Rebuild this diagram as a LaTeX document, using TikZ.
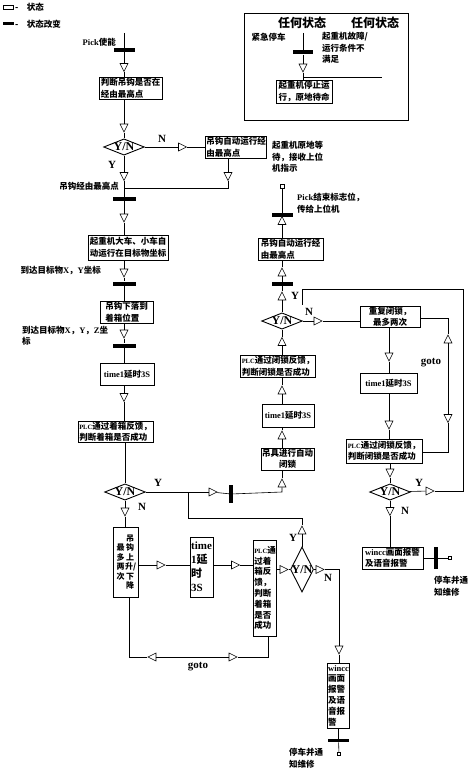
\documentclass[tikz,border=0pt]{standalone}
\usepackage{fontspec}
\setmainfont{Noto Sans CJK SC}
\newfontfamily\lat{Liberation Serif}
\usetikzlibrary{shapes.geometric}
\newcommand\plc{{\fontsize{6.5}{6.5}\selectfont\lat PLC}}

\begin{document}
\begin{tikzpicture}[x=1pt, y=-1pt,
    every node/.style={font=\fontsize{8.5}{11.5}\selectfont\bfseries},
    box/.style={rectangle, draw, line width=0.9pt, inner sep=1pt, align=left},
    yn/.style={diamond, draw, line width=0.9pt, inner sep=0pt, aspect=2.5, font=\fontsize{12}{12}\selectfont\lat\bfseries},
    tri/.style={isosceles triangle, isosceles triangle stretches, draw, fill=white, line width=0.6pt, inner sep=0pt, minimum width=8pt, minimum height=8pt},
    tdown/.style={tri, shape border rotate=270},
    tup/.style={tri, shape border rotate=90},
    tright/.style={tri, shape border rotate=0},
    tleft/.style={tri, shape border rotate=180},
    sbar/.style={rectangle, fill=black, inner sep=0pt, minimum width=21pt, minimum height=4pt},
    vbar/.style={rectangle, fill=black, inner sep=0pt, minimum width=4pt, minimum height=20pt},
    endsq/.style={rectangle, draw, line width=0.6pt, inner sep=0pt, minimum size=3pt},
    txt/.style={inner sep=0pt, align=left},
    yntxt/.style={inner sep=0pt, font=\fontsize{11}{11}\selectfont\lat\bfseries},
    conn/.style={draw, line width=0.6pt}
]
\useasboundingbox (0,0) rectangle (474,770);

% Legend
\node[rectangle, draw, line width=0.6pt, minimum width=10pt, minimum height=4pt, inner sep=0pt] (lgst) at (8,7) {};
\node[txt, anchor=west] (lgstt) at (15,7) {-\quad 状态};
\node[sbar, minimum width=11pt, minimum height=3.5pt] (lgch) at (8,23.5) {};
\node[txt, anchor=west] (lgcht) at (15,24) {-\quad 状态改变};

% Any-state frame
\node[rectangle, draw, line width=0.9pt, minimum width=164pt, minimum height=107pt] (frame) at (326,66.5) {};
\node[inner sep=0pt, font=\fontsize{12}{14}\selectfont\bfseries] (any1) at (302,23) {任何状态};
\node[inner sep=0pt, font=\fontsize{12}{14}\selectfont\bfseries] (any2) at (375,23) {任何状态};
\node[txt] (estop) at (268.5,37) {紧急停车};
\node[txt, anchor=north west] (fault) at (322,32) {起重机故障/\\运行条件不\\满足};
\coordinate (s2) at (303,33);
\node[sbar, minimum width=20pt] (b7) at (303,52.5) {};
\node[tdown] (t35) at (303,66.5) {};
\coordinate (j5) at (303,77);
\coordinate (j6) at (382,77);
\node[box, minimum width=56pt, minimum height=23pt] (box19) at (304,91.5) {起重机停止运\\行，原地待命};

% Main column
\coordinate (s1) at (124,33);
\node[txt, anchor=east] (pick) at (116,42) {{\lat Pick}使能};
\node[sbar] (b1) at (124,50) {};
\node[tdown] (t1) at (124,66) {};
\node[box, minimum width=63pt, minimum height=22pt] (box1) at (130.5,88) {判断吊钩是否在\\经由最高点};
\node[tdown] (t2) at (124,126.5) {};
\node[yn] (d1) at (124,147) {Y/N};
\node[yntxt] (n1) at (162,139) {N};
\node[tright] (t3) at (181,147) {};
\node[box, minimum width=58pt, minimum height=22pt] (box2) at (236,147) {吊钩自动运行经\\由最高点};
\node[yntxt] (y1) at (112,165) {Y};
\node[tdown] (t4) at (124,175) {};
\node[tdown] (t5) at (228,175) {};
\coordinate (j1) at (124,188);
\coordinate (j1r) at (228,188);
\node[txt, anchor=east] (via) at (119,186) {吊钩经由最高点};
\node[sbar, minimum width=23pt] (b2) at (124,199) {};
\node[tdown] (t6) at (124,216.5) {};
\node[box, minimum width=80pt, minimum height=25pt] (box3) at (128,247.5) {起重机大车、小车自\\动运行在目标物坐标};
\node[tdown] (t7) at (124,271.5) {};
\node[txt, anchor=east] (xy) at (101,271) {到达目标物{\lat X}，{\lat Y}坐标};
\node[sbar, minimum width=23pt] (b3) at (124,283.5) {};
\node[box, minimum width=53pt, minimum height=21pt] (box4) at (126.5,312.5) {吊钩下落到\\着箱位置};
\node[tdown] (t8) at (124,332.5) {};
\node[txt, anchor=north west] (xyz) at (22,326) {到达目标物{\lat X}，{\lat Y}，{\lat Z}坐\\标};
\node[sbar, minimum width=23pt] (b4) at (124,345.5) {};
\node[box, align=center, minimum width=54pt, minimum height=22pt] (box5) at (127,374) {{\lat time1}延时{\lat 3S}};
\node[tdown] (t9) at (124,396) {};
\node[box, minimum width=75pt, minimum height=20pt] (box6) at (115.5,432) {\plc 通过着箱反馈，\\判断着箱是否成功};
\node[yn] (d2) at (125,492) {Y/N};
\node[yntxt] (y2) at (158,483) {Y};
\node[yntxt] (n2) at (142,507) {N};
\coordinate (j2) at (188,492);
\coordinate (j2d) at (188,518);
\node[tright] (t10) at (211.5,492) {};
\node[vbar, minimum height=18pt] (vb1) at (231,494) {};
\coordinate (c1) at (282,492);
\node[tdown] (t11) at (125,510.5) {};
\node[box, inner sep=0pt, minimum width=25pt, minimum height=70pt, font=\fontsize{8}{9.5}\selectfont\bfseries] (box7) at (125.5,562)
  {\parbox[c]{9pt}{\centering 最\\多\\两\\次}\parbox[c]{10pt}{\centering 吊\\钩\\上\\升/\\下\\降}};
\node[tright] (t12) at (159.5,565) {};
\node[box, minimum width=23pt, minimum height=60pt, font=\fontsize{11}{14}\selectfont\bfseries] (box8) at (201.5,567) {{\lat time}\\{\lat 1}延\\时\\{\lat 3S}};
\node[tright] (t13) at (234,565) {};
\node[box, minimum width=22pt, minimum height=96pt, font=\fontsize{8.5}{10.8}\selectfont\bfseries] (box9) at (265,588) {\plc 通\\过着\\箱反\\馈，\\判断\\着箱\\是否\\成功};
\node[tright] (t14) at (282.5,569.5) {};
\node[yn, aspect=0.5, minimum width=23pt, minimum height=45pt] (d3) at (302,569.5) {\makebox[0pt]{Y/N}};
\coordinate (j3) at (302,518);
\node[tup] (t15) at (302,531.5) {};
\node[yntxt] (y3) at (293,538) {Y};
\node[tright] (t16) at (318.5,569.5) {};
\node[yntxt] (n3) at (328,578) {N};
\coordinate (j4) at (339,569.5);
\node[tdown] (t17) at (339,648.5) {};
\node[box, minimum width=21pt, minimum height=65pt, font=\fontsize{8.5}{10.8}\selectfont\bfseries] (box10) at (338.5,695.5) {{\lat wincc}\\画面\\报警\\及语\\音报\\警};
\node[sbar, minimum width=21pt, minimum height=3.5pt] (hb) at (338.5,740.5) {};
\node[endsq] (sq3) at (339,754) {};
\node[txt, anchor=north west] (stop1) at (289,748) {停车并通\\知维修};
\coordinate (l1) at (268,657);
\coordinate (l2) at (129,657);
\node[tleft] (t18) at (153.5,657) {};
\node[tright] (t19) at (231.5,657) {};
\node[yntxt] (goto1) at (198,667) {goto};

% Right column
\node[txt, anchor=north west] (wait) at (272,141) {起重机原地等\\待，接收上位\\机指示};
\node[endsq, minimum size=4pt] (sq1) at (282,186) {};
\node[sbar] (b5) at (282,215) {};
\node[txt, anchor=north west] (pickend) at (297,193) {{\lat Pick}结束标志位，\\传给上位机};
\node[tup] (t20) at (282,222) {};
\node[box, minimum width=65pt, minimum height=22pt] (box11) at (290.5,249) {吊钩自动运行经\\由最高点};
\node[tup] (t21) at (282,273.5) {};
\node[sbar] (b6) at (282,284) {};
\node[tup] (t22) at (282,297.5) {};
\node[yntxt] (y4) at (295,296) {Y};
\node[yn] (d4) at (282,321) {Y/N};
\node[yntxt] (n4) at (309,312) {N};
\node[tright] (t23) at (316.5,321) {};
\node[box, align=center, minimum width=60pt, minimum height=20pt] (box12) at (390,317) {重复闭锁，\\最多两次};
\node[tdown] (t24) at (389,355.5) {};
\node[box, align=center, minimum width=57pt, minimum height=20pt] (box13) at (388.5,383) {{\lat time1}延时{\lat 3S}};
\node[tdown] (t25) at (389,423.5) {};
\node[box, minimum width=76pt, minimum height=24pt] (box14) at (384,451) {\plc 通过闭锁反馈，\\判断闭锁是否成功};
\coordinate (g1) at (448,452);
\coordinate (g2) at (448,318);
\node[tdown] (t26) at (448,417) {};
\node[tup] (t27) at (448,340.5) {};
\node[yntxt] (goto2) at (431,363) {goto};
\node[tdown] (t28) at (390,471.5) {};
\node[yn] (d5) at (390,492) {Y/N};
\node[yntxt] (y5) at (419,483) {Y};
\node[tright] (t29) at (428.5,491) {};
\coordinate (r1) at (463,491);
\coordinate (r2) at (463,289);
\coordinate (r3) at (302,289);
\coordinate (r4) at (302,305);
\node[tdown] (t30) at (390,510) {};
\node[yntxt] (n5) at (405,511) {N};
\node[box, minimum width=61pt, minimum height=22pt] (box15) at (392.5,558) {{\lat wincc}画面报警\\及语音报警};
\node[vbar, minimum height=22pt] (vb2) at (436,558) {};
\node[endsq] (sq2) at (450,558) {};
\node[txt, anchor=north west] (stop2) at (434,576) {停车并通\\知维修};
\node[tup] (t31) at (282,343) {};
\node[box, minimum width=70pt, minimum height=21pt] (box16) at (278,366.5) {\plc 通过闭锁反馈，\\判断闭锁是否成功};
\node[tup] (t32) at (282,391.5) {};
\node[box, align=center, minimum width=52pt, minimum height=23pt] (box17) at (288,415.5) {{\lat time1}延时{\lat 3S}};
\node[tup] (t33) at (282,436.5) {};
\node[box, align=center, minimum width=53pt, minimum height=22pt] (box18) at (287.5,459) {吊具进行自动\\闭锁};
\node[tup] (t34) at (282,484.5) {};

% Connectors: frame
\draw[conn] (s2) -- (b7);
\draw[conn] (b7) -- (t35);
\draw[conn] (t35) -- (j5);
\draw[conn] (j5) -- (j5 |- box19.north);
\draw[conn] (j5) -- (j6);

% Connectors: main column
\draw[conn] (s1) -- (b1);
\draw[conn] (b1) -- (t1);
\draw[conn] (t1) -- (t1 |- box1.north);
\draw[conn] (box1.south -| t2) -- (t2);
\draw[conn] (t2) -- (d1);
\draw[conn] (d1) -- (t3);
\draw[conn] (t3) -- (box2);
\draw[conn] (d1) -- (t4);
\draw[conn] (t4) -- (b2);
\draw[conn] (box2.south -| t5) -- (t5);
\draw[conn] (t5) -- (j1r) -- (j1);
\draw[conn] (b2) -- (t6);
\draw[conn] (t6) -- (t6 |- box3.north);
\draw[conn] (box3.south -| t7) -- (t7);
\draw[conn] (t7) -- (b3);
\draw[conn] (b3) -- (b3 |- box4.north);
\draw[conn] (box4.south -| t8) -- (t8);
\draw[conn] (t8) -- (b4);
\draw[conn] (b4) -- (b4 |- box5.north);
\draw[conn] (box5.south -| t9) -- (t9);
\draw[conn] (t9) -- (t9 |- box6.north);
\draw[conn] (box6.south -| d2) -- (d2);
\draw[conn] (d2) -- (t10);
\draw[conn] (t10) -- (vb1);
\draw[conn] (vb1) -- (c1) -- (t34);
\draw[conn] (t34) -- (t34 |- box18.south);
\draw[conn] (j2) -- (j2d) -- (j3) -- (t15);
\draw[conn] (t15) -- (d3);
\draw[conn] (d2) -- (t11);
\draw[conn] (t11) -- (t11 |- box7.north);
\draw[conn] (box7.east |- t12) -- (t12);
\draw[conn] (t12) -- (t12 -| box8.west);
\draw[conn] (box8.east |- t13) -- (t13);
\draw[conn] (t13) -- (t13 -| box9.west);
\draw[conn] (box9.east |- t14) -- (t14);
\draw[conn] (t14) -- (d3);
\draw[conn] (d3) -- (t16);
\draw[conn] (t16) -- (j4) -- (t17);
\draw[conn] (t17) -- (t17 |- box10.north);
\draw[conn] (box10) -- (hb);
\draw[conn] (hb) -- (sq3);
\draw[conn] (box9.south -| l1) -- (l1) -- (t19);
\draw[conn] (t19) -- (t18);
\draw[conn] (t18) -- (l2) -- (l2 |- box7.south);

% Connectors: right column
\draw[conn] (sq1) -- (b5);
\draw[conn] (b5) -- (t20);
\draw[conn] (t20) -- (t20 |- box11.north);
\draw[conn] (box11.south -| t21) -- (t21);
\draw[conn] (t21) -- (b6);
\draw[conn] (b6) -- (t22);
\draw[conn] (t22) -- (d4);
\draw[conn] (d4) -- (t23);
\draw[conn] (t23) -- (t23 -| box12.west);
\draw[conn] (d4) -- (t31);
\draw[conn] (t31) -- (t31 |- box16.north);
\draw[conn] (box16.south -| t32) -- (t32);
\draw[conn] (t32) -- (t32 |- box17.north);
\draw[conn] (box17.south -| t33) -- (t33);
\draw[conn] (t33) -- (t33 |- box18.north);
\draw[conn] (box12.south -| t24) -- (t24);
\draw[conn] (t24) -- (t24 |- box13.north);
\draw[conn] (box13.south -| t25) -- (t25);
\draw[conn] (t25) -- (t25 |- box14.north);
\draw[conn] (box14.south -| t28) -- (t28);
\draw[conn] (t28) -- (d5);
\draw[conn] (box14.east |- g1) -- (g1) -- (t26);
\draw[conn] (t26) -- (t27);
\draw[conn] (t27) -- (g2) -- (g2 -| box12.east);
\draw[conn] (d5) -- (t29);
\draw[conn] (t29) -- (r1) -- (r2) -- (r3) -- (r4);
\draw[conn] (d5) -- (t30);
\draw[conn] (t30) -- (t30 |- box15.north);
\draw[conn] (box15.east |- vb2) -- (vb2);
\draw[conn] (vb2) -- (sq2);

\end{tikzpicture}
\end{document}
